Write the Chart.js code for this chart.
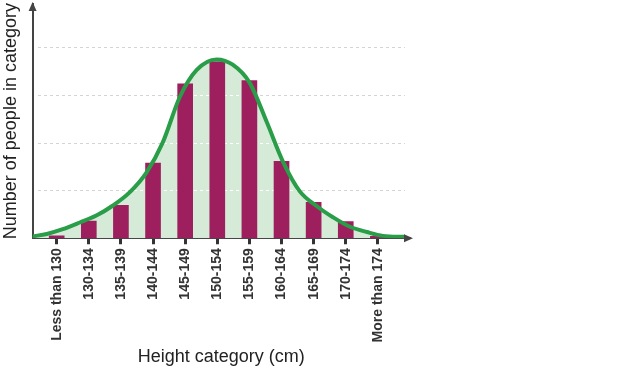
<!DOCTYPE html>
<html>
<head>
<meta charset="utf-8">
<script src="https://cdn.jsdelivr.net/npm/chart.js@4/dist/chart.umd.min.js"></script>
<style>
  html, body { margin: 0; padding: 0; background: #ffffff; }
  #wrap { width: 624px; height: 368px; }
</style>
</head>
<body>
<div id="wrap"><canvas id="c" width="624" height="368"></canvas></div>
<script>
// ---- Data ----
const categories = ['Less than 130', '130-134', '135-139', '140-144', '145-149', '150-154',
                    '155-159', '160-164', '165-169', '170-174', 'More than 174'];
const counts = [0.05, 0.36, 0.69, 1.57, 3.23, 3.69, 3.30, 1.61, 0.75, 0.35, 0.04];

// smooth distribution curve (x in category units, y in count units)
const curveX = [-0.75, -0.31, 0.19, 0.72, 1.25, 1.74, 2.27, 2.80, 3.30, 3.83, 4.36, 4.98,
                5.48, 6.01, 6.54, 7.04, 7.57, 8.10, 8.60, 9.13, 9.66, 10.16, 10.84];
const curveY = [0.04, 0.09, 0.19, 0.33, 0.48, 0.68, 0.96, 1.38, 2.00, 2.95, 3.52, 3.74,
                3.63, 3.25, 2.43, 1.61, 0.98, 0.67, 0.44, 0.24, 0.13, 0.05, 0.03];

const gridValues = [1, 2, 3, 4];

const barPoints = counts.map((v, i) => ({ x: i, y: v }));
const curvePoints = curveX.map((x, i) => ({ x: x, y: curveY[i] }));

// Grid drawn under bars: white dashes over the green fill, grey dashes elsewhere
const gridPlugin = {
  id: 'customGrid',
  beforeDatasetsDraw(chart) {
    const ctx = chart.ctx;
    const y = chart.scales.y;
    const x0 = 38, x1 = 405;
    ctx.save();
    ctx.lineWidth = 1;
    ctx.setLineDash([3, 3]);
    ctx.globalCompositeOperation = 'source-atop';
    ctx.strokeStyle = '#ffffff';
    gridValues.forEach(v => {
      const py = Math.round(y.getPixelForValue(v)) + 0.5;
      ctx.beginPath(); ctx.moveTo(x0, py); ctx.lineTo(x1, py); ctx.stroke();
    });
    ctx.globalCompositeOperation = 'destination-over';
    ctx.strokeStyle = '#d4d4d4';
    gridValues.forEach(v => {
      const py = Math.round(y.getPixelForValue(v)) + 0.5;
      ctx.beginPath(); ctx.moveTo(x0, py); ctx.lineTo(x1, py); ctx.stroke();
    });
    ctx.restore();
  },
  afterDraw(chart) {
    const ctx = chart.ctx;
    const a = chart.chartArea;
    ctx.save();
    ctx.fillStyle = '#444444';
    // y arrow
    ctx.beginPath();
    ctx.moveTo(a.left, a.top - 2);
    ctx.lineTo(a.left - 4, a.top + 7);
    ctx.lineTo(a.left + 4, a.top + 7);
    ctx.closePath(); ctx.fill();
    // x arrow
    ctx.beginPath();
    ctx.moveTo(a.right + 3, a.bottom);
    ctx.lineTo(a.right - 6, a.bottom - 4);
    ctx.lineTo(a.right - 6, a.bottom + 4);
    ctx.closePath(); ctx.fill();
    ctx.restore();
  }
};

new Chart(document.getElementById('c'), {
  type: 'bar',
  data: {
    datasets: [
      {
        type: 'line',
        data: curvePoints,
        borderColor: '#2a9d48',
        borderWidth: 4,
        backgroundColor: '#d5ebd8',
        fill: 'origin',
        pointRadius: 0,
        cubicInterpolationMode: 'monotone',
        order: 0
      },
      {
        type: 'bar',
        data: barPoints,
        backgroundColor: '#9e1f5e',
        borderWidth: 0,
        barThickness: 15,
        order: 1
      }
    ]
  },
  options: {
    responsive: false,
    animation: false,
    devicePixelRatio: 1,
    layout: { padding: { top: 4, right: 214, bottom: 0, left: 0 } },
    plugins: {
      legend: { display: false },
      tooltip: { enabled: false },
      filler: { drawTime: 'beforeDatasetsDraw' }
    },
    scales: {
      x: {
        type: 'linear',
        min: -0.75,
        max: 11,
        offset: false,
        afterBuildTicks(scale) {
          scale.ticks = categories.map((_, i) => ({ value: i }));
        },
        ticks: {
          autoSkip: false,
          minRotation: 90,
          maxRotation: 90,
          padding: 4,
          color: '#333333',
          font: { family: 'Liberation Sans, Arial, sans-serif', size: 14, weight: 'bold' },
          callback: (v) => categories[v]
        },
        grid: {
          display: true,
          offset: false,
          drawOnChartArea: false,
          drawTicks: true,
          tickLength: 6,
          tickWidth: 3,
          tickColor: '#333333',
          color: '#333333'
        },
        border: { display: true, color: '#444444', width: 2 },
        title: {
          display: true,
          text: 'Height category (cm)',
          color: '#222222',
          font: { family: 'Liberation Sans, Arial, sans-serif', size: 18 },
          padding: { top: 0, bottom: 0 }
        }
      },
      y: {
        min: 0,
        max: 4.9,
        ticks: { display: false },
        grid: { display: false, drawTicks: false },
        border: { display: true, color: '#444444', width: 2 },
        title: {
          display: true,
          text: 'Number of people in category',
          color: '#222222',
          font: { family: 'Liberation Sans, Arial, sans-serif', size: 18 },
          padding: { top: 0, bottom: 11 }
        }
      }
    }
  },
  plugins: [gridPlugin]
});
</script>
</body>
</html>
